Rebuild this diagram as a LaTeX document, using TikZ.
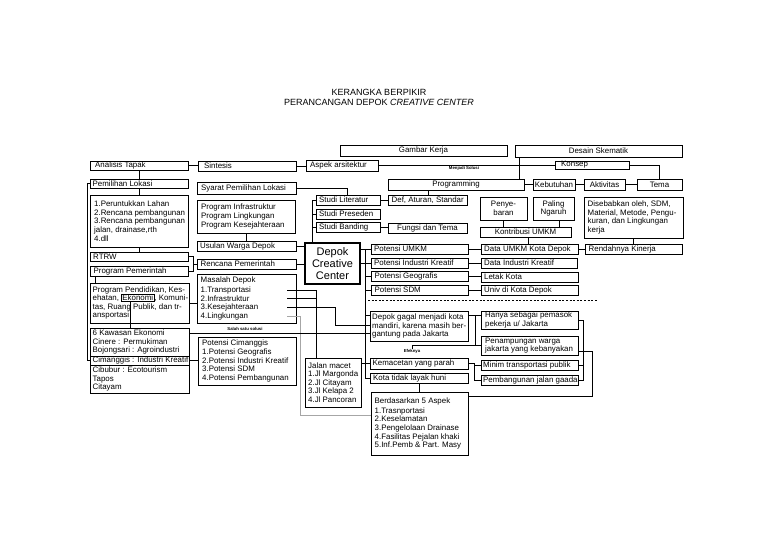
\documentclass[tikz,border=0pt]{standalone}
\usepackage{fontspec}
\setmainfont{Liberation Sans}
\usetikzlibrary{calc}
\newcommand\fs{\fontsize{7.9}{8.6}\selectfont}
\setlength\fboxsep{0.4pt}
\setlength\fboxrule{0.8pt}
% left-aligned box: [box opts]{xsep}{x1}{y1}{x2}{y2}{name}{text}
\newcommand\bx[8][]{%
  \pgfmathsetmacro\bxw{#5-#3}%
  \pgfmathsetmacro\bxh{#6-#4}%
  \node[bx,minimum width=\bxw pt,minimum height=\bxh pt,#1] (#7) at (#3,#4) {};
  \node[bxt,anchor=west] (#7-t) at ([xshift=#2pt]#7.west) {#8};}
% centred box
\newcommand\bxc[8][]{%
  \pgfmathsetmacro\bxw{#5-#3}%
  \pgfmathsetmacro\bxh{#6-#4}%
  \node[bx,minimum width=\bxw pt,minimum height=\bxh pt,#1] (#7) at (#3,#4) {};
  \node[bxt,align=center,anchor=center,#2] (#7-t) at (#7.center) {#8};}
\tikzset{
  bx/.style={draw,fill=white,line width=0.9pt,anchor=north west,outer sep=0pt,inner sep=0pt},
  bxt/.style={inner sep=0pt,font=\fs,align=left},
  dccs/.style={font=\fontsize{11}{12}\selectfont},
  conn/.style={line width=0.9pt},
  lbl/.style={font=\fontsize{4.3}{5}\selectfont\bfseries,inner sep=0.5pt},
  ttl/.style={font=\fontsize{9}{10}\selectfont,inner sep=0pt},
  greyline/.style={line width=0.9pt,draw=black!35}
}
\begin{document}
\begin{tikzpicture}[x=1pt,y=-1pt]
\useasboundingbox (0,0) rectangle (768,543);
\fill[white] (0,0) rectangle (768,543);

\node[ttl] (t1) at (379,92) {KERANGKA BERPIKIR};
\node[ttl] (t2) at (379,102) {PERANCANGAN DEPOK \textit{CREATIVE CENTER}};

\bxc{}{340}{145}{507}{156}{gk}{Gambar Kerja}
\bxc{}{515}{145}{682}{157}{ds}{Desain Skematik}
\bx{5}{90}{161}{188}{170}{at}{Analisis Tapak}
\bx{6}{198}{161}{296}{171}{sin}{Sintesis}
\bx{4}{306}{160}{378}{171}{aa}{Aspek arsitektur}
\bx{6}{555}{161}{629}{169}{ks}{Konsep}
\bx{2.5}{90}{179}{188}{188}{pl}{Pemilihan Lokasi}
\bx{4}{197}{182}{296}{194}{spl}{Syarat Pemilihan Lokasi}
\bxc{}{388}{179}{524}{190}{prog}{Programming}
\bxc{}{533}{179}{575}{190}{keb}{Kebutuhan}
\bxc{}{584}{179}{625}{190}{akt}{Aktivitas}
\bxc{}{637}{179}{682}{190}{tema}{Tema}
\bx{4}{90}{195}{188}{247}{per}{1.Peruntukkan Lahan\\2.Rencana pembangunan\\3.Rencana pembangunan\\jalan, drainase,rth\\4.dll}
\bx{3}{316}{195}{380}{205}{sl}{Studi Literatur}
\bx{3.5}{388}{195}{467}{205}{def}{Def, Aturan, Standar}
\bxc{}{480}{197}{527}{220}{pen}{Penye-\\baran}
\bxc{}{533}{197}{574}{220}{pn}{Paling\\Ngaruh}
\bx{3.5}{584}{197}{683}{238}{dis}{Disebabkan oleh, SDM,\\Material, Metode, Pengu-\\kuran, dan Lingkungan\\kerja}
\bx{4}{197}{200}{295}{233}{pi}{Program Infrastruktur\\Program Lingkungan\\Program Kesejahteraan}
\bx{3}{316}{209}{380}{219}{sp}{Studi Preseden}
\bx{3}{316}{222}{380}{232}{sb}{Studi Banding}
\bxc{}{388}{223}{467}{233}{fdt}{Fungsi dan Tema}
\bxc{}{480}{227}{571}{237}{kum}{Kontribusi UMKM}
\bx{3}{197}{241}{296}{251}{uwd}{Usulan Warga Depok}
\bxc[line width=1.8pt]{dccs}{305}{243}{360}{284}{dcc}{Depok\\Creative\\Center}
\bx{3}{371}{244}{468}{254}{pum}{Potensi UMKM}
\bx{3}{481}{244}{578}{254}{dum}{Data UMKM Kota Depok}
\bx{3.5}{585}{244}{682}{254}{rk}{Rendahnya Kinerja}
\bx{3}{90}{252}{188}{261}{rtrw}{RTRW}
\bx{3}{371}{258}{468}{268}{pik}{Potensi Industri Kreatif}
\bx{3}{481}{258}{577}{268}{dik}{Data Industri Kreatif}
\bx{3.5}{197}{259}{296}{269}{rp}{Rencana Pemerintah}
\bx{3.5}{90}{266}{188}{276}{ppem}{Program Pemerintah}
\bx{3.5}{371}{271}{468}{281}{pg}{Potensi Geografis}
\bx{3}{481}{272}{578}{282}{lk}{Letak Kota}
\bx{3.5}{197}{274}{296}{323}{md}{Masalah Depok\\[1.2pt]1.Transportasi\\2.Infrastruktur\\3.Kesejahteraan\\4.Lingkungan}
\bx{2.5}{90}{283}{189}{323}{ppend}{Program Pendidikan, Kes-\\ehatan, \fbox{Ekonomi}, Komuni-\\tas, Ruang Publik, dan tr-\\ansportasi}
\bx{3.5}{371}{285}{468}{295}{psdm}{Potensi SDM}
\bx{3}{481}{285}{578}{295}{ukd}{Univ di Kota Depok}
\bx{2}{370}{311}{468}{341}{dg}{Depok gagal menjadi kota\\mandiri, karena masih ber-\\gantung pada Jakarta}
\bx{4}{481}{311}{578}{329}{hs}{Hanya sebagai pemasok\\pekerja u/ Jakarta}
\bx{2.5}{90}{328}{189}{356}{kaw1}{6 Kawasan Ekonomi\\Cinere : Permukiman\\Bojongsari : Agroindustri}
\bx{2.5}{90}{356}{189}{365}{cim}{Cimanggis : Industri Kreatif}
\bx{2.5}{90}{365}{189}{393}{kaw2}{Cibubur : Ecotourism\\Tapos\\Citayam}
\bx{4}{198}{337}{296}{385}{pc}{Potensi Cimanggis\\1.Potensi Geografis\\2.Potensi Industri Kreatif\\3.Potensi SDM\\4.Potensi Pembangunan}
\bx{4}{481}{336}{578}{355}{pw}{Penampungan warga\\jakarta yang kebanyakan}
\bx{2.5}{370}{358}{468}{369}{kp}{Kemacetan yang parah}
\bx{3}{305}{358}{361}{407}{jm}{Jalan macet\\1.Jl Margonda\\2.Jl Citayam\\3.Jl Kelapa 2\\4.Jl Pancoran}
\bx{2}{481}{360}{578}{370}{mtp}{Minim transportasi publik}
\bx{3}{370}{373}{468}{383}{kt}{Kota tidak layak huni}
\bx{2}{481}{375}{578}{385}{pjg}{Pembangunan jalan gaada}
\bx{3.5}{371}{392}{468}{455}{b5}{Berdasarkan 5 Aspek\\[1.5pt]1.Trasnportasi\\2.Keselamatan\\3.Pengelolaan Drainase\\4.Fasilitas Pejalan khaki\\5.Inf.Pemb \& Part. Masy}

\node[lbl] (l1) at (464,168) {Menjadi Solusi};
\node[lbl] (l2) at (245,328.5) {Salah satu solusi};
\node[lbl] (efek) at (412,351.5) {Efeknya};

\coordinate (m1) at (287,290);
\coordinate (m2) at (287,298);
\coordinate (m3) at (287,307);
\coordinate (m4) at (287,316);
\coordinate (eko) at (130,301.8);

\begin{scope}[conn]
\draw (at.east) -- (at.east -| sin.west);
\draw (sin.east) -- (sin.east -| aa.west);
\draw (aa.east) -- (aa.east -| ks.west);
\draw (ks.east) -| (tema.north);
\draw ([xshift=-5pt]prog.north east) -- ([xshift=-5pt]prog.north east |- ds.south);
\draw (prog.east) -- (prog.east -| keb.west);
\draw (keb.east) -- (keb.east -| akt.west);
\draw (akt.east) -- (akt.east -| tema.west);
\draw ([xshift=40pt]prog.south west) -- ([xshift=40pt]prog.south west |- def.north);
\draw (sl.east) -- (sl.east -| def.west);
\draw (sb.east) -- (sb.east -| fdt.west);
\draw (spl.east) -| ([xshift=31pt]sl.north west);
\draw (sl.west) -- ++(-4,0) coordinate (sbr) -- (sbr |- dcc.north);
\draw (sp.west) -- (sp.west -| sbr);
\draw (sb.west) -- (sb.west -| sbr);
\draw (pen.south) -- (pen.south |- kum.north);
\draw ([xshift=6pt]pn.south) -- ([xshift=6pt]pn.south |- kum.north);
\draw ([xshift=47pt]dum.north west) -- ([xshift=47pt]dum.north west |- kum.south);
\draw (dis.south) -- (dis.south |- rk.north);
\draw (dum.east) -- (dum.east -| rk.west);
\draw (pum.east) -- (pum.east -| dum.west);
\draw (pik.east) -- (pik.east -| dik.west);
\draw (pg.east) -- (pg.east -| lk.west);
\draw (psdm.east) -- (psdm.east -| ukd.west);
% left column
\draw (at.south) -- (at.south |- pl.north);
\draw (pl.south) -- (pl.south |- per.north);
\draw (per.south) -- (per.south |- rtrw.north);
\draw (pl.west) -- ++(-3,0) coordinate (lb) -- (lb |- cim.west) -- (cim.west);
\draw (rtrw.east) -- ++(5,0) coordinate (rr) -- (rr |- ppem.east) -- (ppem.east);
\draw (rr |- rp.west) -- (rp.west);
\draw ([xshift=5pt]ppem.south west) -- ([xshift=5pt]ppem.south west |- ppend.north);
\draw (eko) -- (eko |- kaw1.north);
\draw (ppend.east) -- (ppend.east -| md.west);
\draw (cim.east) -- (cim.east -| pc.west);
\draw (pi.south) -- (pi.south |- uwd.north);
\draw (uwd.east) -- (uwd.east -| dcc.west);
\draw (rp.east) -- (rp.east -| dcc.west);
% depok creative center to potensi
\draw (dcc.east |- pum.west) -- (pum.west);
\draw (dcc.east |- pik.west) -- (pik.west);
\draw ([xshift=-6pt]pum.west) coordinate (rbr) -- (rbr |- kt.west);
\draw (rbr |- pg.west) -- (pg.west);
\draw (rbr |- psdm.west) -- (psdm.west);
\draw (rbr |- {$(dg.north west)+(0,4)$}) -- ($(dg.north west)+(0,4)$);
\draw (jm.east |- kp.west) -- (kp.west);
\draw (rbr |- kt.west) -- (kt.west);
% masalah depok
\draw (m1) -| ([xshift=11pt]jm.north west);
\draw (m2) -- (m2 -| {$(jm.north west)+(11,0)$});
\draw (m3) -- ++(48,0) |- ($(dg.north west)+(0,14)$);
\draw[greyline] (m4) -- ++(13,0) |- ($(b5.north west)+(0,23)$);
\draw ($(kaw1.north east)+(0,5)$) -- ($(dg.north west)+(0,22)$);
% right part
\draw ($(dg.north east)+(0,4)$) -- ($(hs.north west)+(0,4)$);
\draw ($(dg.north east)+(7,4)$) |- (pw.west);
\draw ($(pw.west)+(-6,0)$) -| (efek.north);
\draw (kp.east) -- ++(6,0) coordinate (kr) |- (pjg.west);
\draw (kr |- mtp.west) -- (mtp.west);
\draw (hs.east) -- ++(5,0) coordinate (hr) |- (pjg.east);
\draw (mtp.east) -- (mtp.east -| hr);
\draw ($(pw.east)+(0,6)$) -- ++(14,0) |- ($(b5.north east)+(0,4)$);
\draw (kt.south) -- (kt.south |- b5.north);
\end{scope}
\draw[line width=0.7pt,dash pattern=on 2pt off 1.6pt] (368,300) -- (598,300);
\end{tikzpicture}
\end{document}
